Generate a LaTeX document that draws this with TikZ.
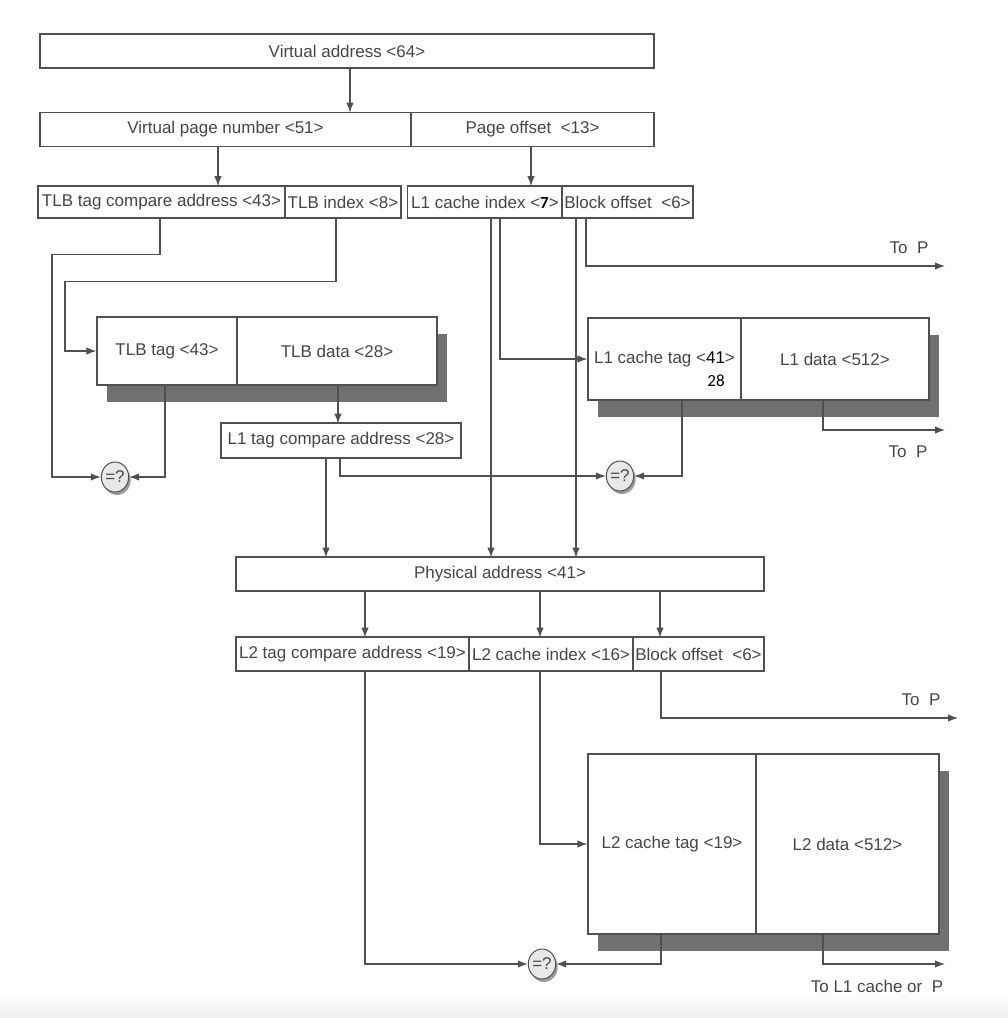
\documentclass[tikz,border=0pt]{standalone}
\usepackage{fontspec}
\setmainfont{Liberation Sans}
\newfontfamily\calfont{Carlito}
\usetikzlibrary{arrows.meta,shapes.geometric,shadows}
\definecolor{linegray}{RGB}{80,80,80}
\definecolor{txtgray}{RGB}{70,70,70}
\definecolor{shadowgray}{RGB}{112,112,112}
\definecolor{cmpfill}{RGB}{232,232,232}
\begin{document}
\begin{tikzpicture}[x=1pt,y=-1pt,
  every node/.style={font=\fontsize{17}{20}\selectfont, text=txtgray},
  fld/.style={draw=linegray, line width=1.2pt, fill=white, inner sep=0pt, minimum height=34pt},
  bigbox/.style={draw=linegray, line width=1.2pt, fill=white, inner sep=0pt,
     drop shadow={shadow xshift=10pt, shadow yshift=-17pt, fill=shadowgray, opacity=1}},
  cmp/.style={ellipse, draw=linegray, line width=1pt, fill=cmpfill, inner sep=0pt,
     minimum width=26pt, minimum height=30pt, font=\fontsize{17}{18}\selectfont,
     drop shadow={shadow xshift=2pt, shadow yshift=-3pt, fill=shadowgray, opacity=0.7}},
  ln/.style={draw=linegray, line width=1.2pt},
  arr/.style={ln, -{Latex[length=10pt,width=7.5pt]}},
  lbl/.style={inner sep=0pt}
]
\useasboundingbox (0,0) rectangle (1008,1018);
\shade[top color=white, bottom color=black!6, draw=none] (0,990) rectangle (1008,1018);

% top rows
\node[fld, minimum width=614pt] (va) at (347,51) {Virtual address <64>};
\node[fld, minimum width=371pt] (vpn) at (225.5,129.5) {Virtual page number <51>};
\node[fld, minimum width=243pt] (po) at (532.5,129.5) {Page offset\ \ <13>};

\node[fld, minimum width=247pt, minimum height=32pt] (tlbcmp) at (161.5,202) {TLB tag compare address <43>};
\node[fld, minimum width=116pt, minimum height=32pt] (tlbidx) at (343,202) {TLB index <8>};
\node[fld, minimum width=155pt, minimum height=32pt] (l1idx) at (485,202) {L1 cache index <{\calfont\color{black}\bfseries 7}>};
\node[fld, minimum width=131pt, minimum height=32pt] (boff1) at (627.5,202) {Block offset\ \ <6>};

% TLB
\node[bigbox, minimum width=140pt, minimum height=68pt] (tlbtag) at (167,351) {TLB tag <43>};
\node[bigbox, minimum width=200pt, minimum height=68pt] (tlbdata) at (337,351) {TLB data <28>};
\node[fld, minimum width=240pt, minimum height=35pt] (l1cmp) at (341,440.5) {L1 tag compare address <28>};

% L1 cache
\node[bigbox, minimum width=153pt, minimum height=82pt] (l1tag) at (664.5,359) {L1 cache tag <{\color{black}41}>};
\node[bigbox, minimum width=188pt, minimum height=82pt] (l1data) at (835,359) {L1 data <512>};
\node[lbl, font=\calfont\fontsize{17}{20}\selectfont, text=black] (l1fix) at (716,381) {28};

% comparators
\node[cmp] (cmp1) at (115,477) {=?};
\node[cmp] (cmp2) at (620,476) {=?};
\node[cmp] (cmp3) at (542,964) {=?};

% physical address
\node[fld, minimum width=528pt] (pa) at (500,574) {Physical address <41>};
\node[fld, minimum width=233pt] (l2cmp) at (352.5,654) {L2 tag compare address <19>};
\node[fld, minimum width=164pt] (l2idx) at (551,654) {L2 cache index <16>};
\node[fld, minimum width=131pt] (boff2) at (698.5,654) {Block offset\ \ <6>};

% L2 cache
\node[bigbox, minimum width=168pt, minimum height=180pt] (l2tag) at (672,844) {L2 cache tag <19>};
\node[bigbox, minimum width=183pt, minimum height=180pt] (l2data) at (847.5,844) {L2 data <512>};

% free ends
\coordinate (toP1) at (945,266);
\coordinate (toP2) at (945,430);
\coordinate (toP3) at (958,718);
\coordinate (toL1) at (945,964);

% labels
\node[lbl] (lp1) at (909,248) {To\ \ P};
\node[lbl] (lp2) at (908,452) {To\ \ P};
\node[lbl] (lp3) at (921,700) {To\ \ P};
\node[lbl] (lp4) at (877,986) {To L1 cache or\ \ P};

% connectors
\draw[arr] ([xshift=3pt]va.south) -- ++(0,44);
\draw[arr] ([xshift=-7.5pt]vpn.south) -- ++(0,39);
\draw[arr] ([xshift=-1.5pt]po.south) -- ++(0,39);

\draw[arr] ([xshift=-1.5pt]tlbcmp.south) -- ++(0,36) -- ++(-108,0) |- (cmp1.west);
\draw[arr] ([xshift=-7pt]tlbidx.south) -- ++(0,63) -- ++(-271,0) |- (tlbtag.west);
\draw[arr] ([xshift=-2pt]tlbtag.south) |- (cmp1.east);
\draw[arr] ([xshift=1pt]tlbdata.south) -- ++(0,38);

\draw[arr] ([xshift=-15pt]l1cmp.south) -- ++(0,99);
\draw[arr] ([xshift=-1pt]l1cmp.south) |- (cmp2.west);

\draw[arr] ([xshift=6pt]l1idx.south) -- ++(0,339);
\draw[arr] ([xshift=15pt]l1idx.south) |- (l1tag.west);
\draw[arr] ([xshift=-51.5pt]boff1.south) -- ++(0,339);
\draw[arr] ([xshift=-41.5pt]boff1.south) |- (toP1);

\draw[arr] ([xshift=17.5pt]l1tag.south) |- (cmp2.east);
\draw[arr] ([xshift=-12pt]l1data.south) |- (toP2);

\draw[arr] ([xshift=-135pt]pa.south) -- ++(0,46);
\draw[arr] ([xshift=40pt]pa.south) -- ++(0,46);
\draw[arr] ([xshift=160pt]pa.south) -- ++(0,46);

\draw[arr] ([xshift=12.5pt]l2cmp.south) |- (cmp3.west);
\draw[arr] ([xshift=-11pt]l2idx.south) |- (l2tag.west);
\draw[arr] ([xshift=-37.5pt]boff2.south) |- (toP3);
\draw[arr] ([xshift=-11pt]l2tag.south) |- (cmp3.east);
\draw[arr] ([xshift=-24.5pt]l2data.south) |- (toL1);
\end{tikzpicture}
\end{document}
